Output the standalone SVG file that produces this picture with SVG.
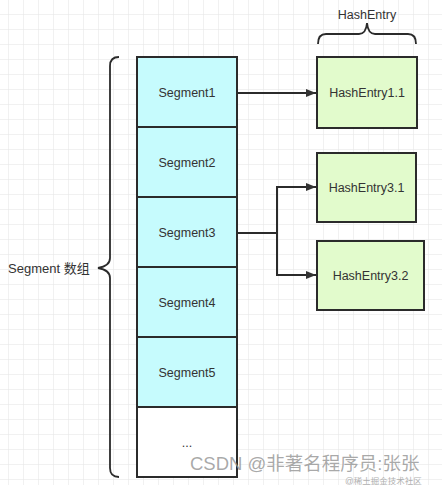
<svg xmlns="http://www.w3.org/2000/svg" width="442" height="485" viewBox="0 0 442 485">
<defs>
<pattern id="grid" x="8" y="14" width="15" height="15" patternUnits="userSpaceOnUse">
<path d="M0 0H15M0 0V15" fill="none" stroke="#e4e4e4" stroke-width="1"/>
</pattern>
<marker id="arr" viewBox="0 0 10 8" refX="10" refY="4" markerWidth="10" markerHeight="8" markerUnits="userSpaceOnUse" orient="auto">
<path d="M0 0L10 4L0 8Z" fill="#333"/>
</marker>
</defs>
<style>
.seg{fill:#c6fbfd;stroke:#2b2b2b;stroke-width:2}
.he{fill:#e2fbcc;stroke:#2b2b2b;stroke-width:2}
.t{font-family:"Liberation Sans",Arial,"Noto Sans CJK SC",sans-serif;font-size:12.5px;fill:#333;text-anchor:middle}
.c{fill:none;stroke:#2b2b2b;stroke-width:2}
.br{fill:none;stroke:#2b2b2b;stroke-width:1.8}
</style>
<rect width="442" height="485" fill="#fff"/>
<rect width="442" height="485" fill="url(#grid)"/>

<g id="segment1"><rect class="seg" x="137" y="57" width="100" height="70"/><text class="t" x="187" y="97">Segment1</text></g>
<g id="segment2"><rect class="seg" x="137" y="127" width="100" height="70"/><text class="t" x="187" y="167">Segment2</text></g>
<g id="segment3"><rect class="seg" x="137" y="197" width="100" height="70"/><text class="t" x="187" y="237">Segment3</text></g>
<g id="segment4"><rect class="seg" x="137" y="267" width="100" height="70"/><text class="t" x="187" y="307">Segment4</text></g>
<g id="segment5"><rect class="seg" x="137" y="337" width="100" height="70"/><text class="t" x="187" y="377">Segment5</text></g>
<g id="segment-more"><rect x="137" y="407" width="100" height="70" fill="#fff" stroke="#2b2b2b" stroke-width="2"/><text class="t" x="187" y="447">...</text></g>

<g id="hashentry1-1"><rect class="he" x="317" y="57" width="100" height="71"/><text class="t" x="367" y="97">HashEntry1.1</text></g>
<g id="hashentry3-1"><rect class="he" x="317" y="153" width="99" height="69"/><text class="t" x="366.5" y="192">HashEntry3.1</text></g>
<g id="hashentry3-2"><rect class="he" x="317" y="241" width="107" height="69"/><text class="t" x="370.5" y="280">HashEntry3.2</text></g>

<g id="hashentry-label">
<path class="br" d="M318 44Q318 34 326 34H359Q366 34 367 23Q368 34 375 34H408Q416 34 416 44"/>
<text class="t" x="367" y="19">HashEntry</text>
</g>

<g id="segment-array-label">
<path class="br" d="M119 57Q110 57 110 66V258Q110 266 98 268Q110 270 110 278V468Q110 477 119 477"/>
<text class="t" x="8" y="273" style="text-anchor:start;font-size:13px">Segment 数组</text>
</g>

<g id="connectors">
<path class="c" d="M237 93H316" marker-end="url(#arr)"/>
<path class="c" d="M237 233H277"/>
<path class="c" d="M277 187V275"/>
<path class="c" d="M276 187H316" marker-end="url(#arr)"/>
<path class="c" d="M276 275H316" marker-end="url(#arr)"/>
</g>

<g id="watermark" font-family="'Liberation Sans',Arial,'Noto Sans CJK SC',sans-serif">
<text x="190" y="470" font-size="18.5" fill="#9a9a9a" fill-opacity="0.85">CSDN @非著名程序员:张张</text>
<text x="345" y="484" font-size="8.5" fill="#b0b0b0">@稀土掘金技术社区</text>
</g>
</svg>
